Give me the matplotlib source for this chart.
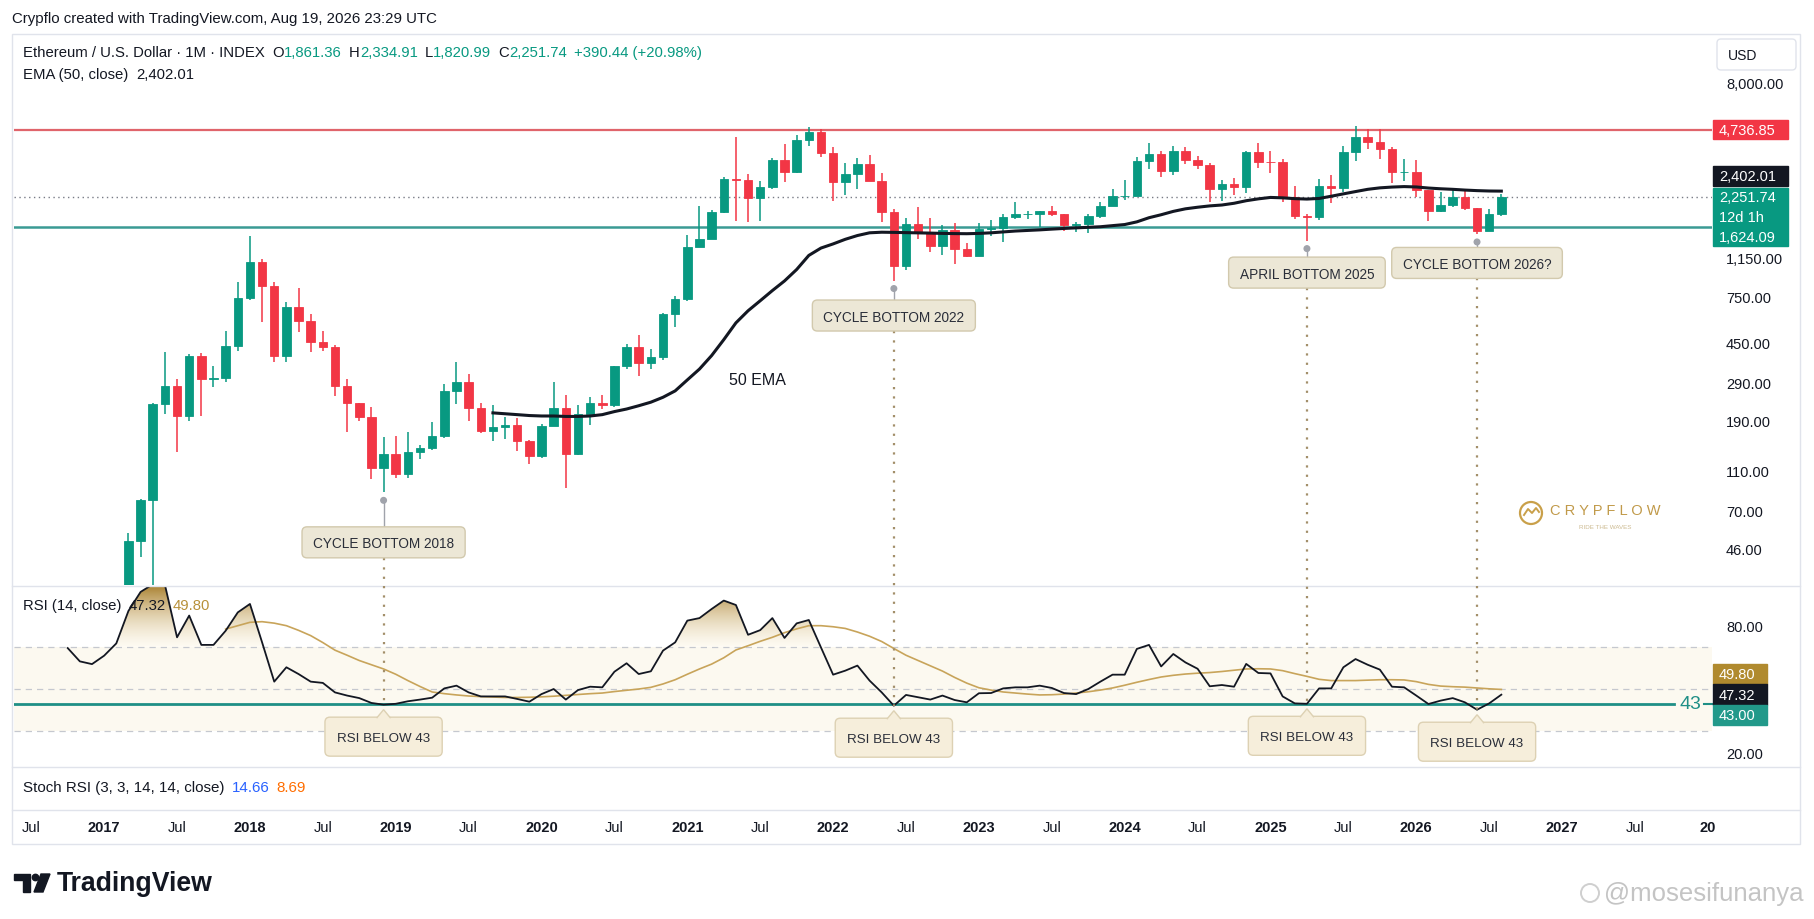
import numpy as np
import matplotlib
matplotlib.use("Agg")
import matplotlib.pyplot as plt
from matplotlib.patches import FancyBboxPatch, Rectangle, Polygon, Circle
from matplotlib.path import Path
from matplotlib.transforms import blended_transform_factory

plt.rcParams["font.family"] = ["Liberation Sans", "DejaVu Sans"]

W, H = 1815, 920

# month index counted from Jan 2016 = 0; first visible candle is Mar 2017
CANDLE_START = 14
opens = [
    15.7, 50, 79, 228, 280, 200, 390, 301, 305, 435,                      # 2017
    736, 1101, 845, 390, 665, 574, 451, 427, 280, 230, 197, 112,          # 2018
    131, 105, 135, 141, 160, 264, 290, 218, 170, 178, 182, 151,           # 2019
    128, 180, 218, 132, 205, 230, 225, 347, 430, 358, 385, 618,           # 2020
    730, 1300, 1415, 1900, 2750, 2710, 2224, 2507, 3388, 2957, 4240, 4630,  # 2021
    3650, 2650, 2905, 3243, 2699, 1915, 1054, 1671, 1530, 1315, 1563, 1267,  # 2022
    1178, 1581, 1605, 1812, 1870, 1875, 1935, 1860, 1645, 1670, 1815, 2046,  # 2023
    2270, 2280, 3340, 3620, 2990, 3760, 3390, 3200, 2460, 2600, 2515, 3690,  # 2024
    3330, 3300, 2240, 1820, 1795, 2530, 2490, 3700, 4360, 4120, 3830, 2960,  # 2025
    2975, 2430, 1936, 2066, 2245, 1985, 1551, 1861.36,                    # 2026
]
highs = [
    55, 80, 232, 404, 300, 395, 400, 349, 513, 877,
    1468, 1135, 876, 703, 822, 620, 513, 440, 300, 232, 220, 158,
    160, 167, 145, 187, 285, 362, 318, 232, 225, 198, 195, 153,
    184, 290, 253, 227, 247, 253, 349, 445, 488, 420, 622, 755,
    1475, 2040, 1945, 2800, 4355, 2890, 2700, 3470, 4030, 4460, 4865, 4780,
    3900, 3280, 3480, 3580, 2950, 1970, 1790, 2010, 1790, 1660, 1680, 1350,
    1680, 1740, 1860, 2122, 1930, 1930, 2030, 1870, 1700, 1860, 2130, 2450,
    2715, 3520, 4090, 3730, 3970, 3890, 3560, 3280, 2720, 2770, 3740, 4110,
    3750, 3440, 2550, 1860, 2740, 2880, 3940, 4955, 4770, 4750, 3920, 3430,
    3370, 2440, 2372, 2430, 2410, 2000, 1972, 2334.91,
]
lows = [
    15.6, 42, 25, 204, 134, 190, 200, 275, 290, 411,
    720, 564, 362, 362, 505, 404, 412, 250, 167, 190, 100, 86,
    101, 101, 125, 137, 157, 228, 190, 166, 152, 155, 136, 118,
    126, 180, 90, 130, 182, 216, 222, 335, 310, 335, 373, 535,
    715, 1290, 1410, 1880, 1733, 1700, 1720, 2450, 2650, 2940, 3960, 3520,
    2161, 2300, 2450, 2780, 1700, 894, 1000, 1420, 1220, 1190, 1070, 1160,
    1170, 1460, 1370, 1760, 1760, 1620, 1820, 1550, 1530, 1520, 1780, 2030,
    2170, 2270, 3060, 2810, 2860, 3250, 3080, 2120, 2150, 2300, 2350, 3100,
    2920, 2120, 1760, 1390, 1750, 2110, 2370, 3350, 3820, 3430, 2630, 2700,
    2245, 1733, 1905, 2010, 1960, 1496, 1540, 1820.99,
]
closes = [
    50, 79, 228, 280, 200, 390, 301, 305, 435, 736,
    1101, 845, 390, 665, 574, 451, 427, 280, 230, 197, 112, 131,
    105, 135, 141, 160, 264, 290, 218, 170, 178, 182, 151, 128,
    180, 218, 132, 205, 230, 225, 347, 430, 358, 385, 618, 730,
    1300, 1415, 1900, 2750, 2710, 2224, 2507, 3388, 2957, 4240, 4630, 3650,
    2650, 2905, 3243, 2699, 1915, 1054, 1671, 1530, 1315, 1563, 1267, 1178,
    1581, 1605, 1812, 1870, 1875, 1935, 1860, 1645, 1670, 1815, 2046, 2270,
    2280, 3340, 3620, 2990, 3760, 3390, 3200, 2460, 2600, 2515, 3690, 3330,
    3300, 2240, 1820, 1795, 2530, 2490, 3700, 4360, 4120, 3830, 2960, 2975,
    2430, 1936, 2066, 2245, 1985, 1551, 1861.30, 2251.74,
]

EMA_START = 44
ema50 = [
    207, 205, 203, 201,
    200, 200, 199, 199, 200, 203, 210, 216, 224, 233, 246, 264,
    298, 336, 390, 465, 560, 640, 715, 800, 890, 1010, 1180, 1280,
    1340, 1410, 1470, 1515, 1525, 1522, 1518, 1514, 1510, 1505, 1502, 1500,
    1505, 1515, 1530, 1545, 1555, 1565, 1578, 1590, 1600, 1610, 1620, 1640,
    1660, 1710, 1790, 1850, 1920, 1975, 2010, 2040, 2060, 2100, 2160, 2205,
    2240, 2230, 2210, 2200, 2215, 2270, 2330, 2390, 2450, 2490, 2512, 2525,
    2515, 2485, 2465, 2450, 2430, 2415, 2405, 2402.01,
]

RSI_START = 9
rsi = [
    69.4, 63.1, 61.8,
    65.8, 71.6, 87, 96, 99.6, 99.4, 74.5, 84.8, 70.9, 70.9, 77.6, 86.3,
    90.3, 72.1, 53.5, 60.3, 57.1, 53.5, 52.9, 48.4, 46.9, 45.7, 43.4, 42.6,
    43.0, 44.2, 45, 45.9, 50.3, 51.6, 48.4, 46.5, 46.5, 46.5, 45.3, 44,
    47.6, 50, 45, 49.5, 51.1, 50.8, 58.2, 62.2, 57.1, 58.4, 68.2, 72.1,
    82.4, 83.6, 87.9, 91.9, 89.8, 75.7, 77.9, 83.6, 74.2, 81.1, 82.7, 69.7,
    56.8, 58.7, 61.1, 54, 48.4, 42.1, 47.2, 46.1, 45, 46.9, 44.8, 43.7,
    48, 48.1, 50.3, 50.8, 50.8, 51.6, 50.5, 48.1, 47.6, 50, 53.5, 56.8,
    56.8, 69, 70.9, 60.7, 66.6, 62.6, 59.6, 51.3, 51.9, 51.1, 61.9, 57.6,
    57.4, 46.5, 43.2, 43.0, 50.3, 50.3, 60.3, 64.2, 61.5, 59.2, 51.1, 50.8,
    46.9, 42.9, 44.5, 45.7, 43.7, 40.2, 43.2, 47.32,
]
RSI_MA_START = 22
rsi_ma = [
    78.4, 80,
    81.6, 81.9, 81.2, 80, 77.8, 75.3, 72, 68.4, 66, 63.5, 61.5, 59.5,
    57, 54, 51.2, 48.6, 47.8, 47.2, 46.7, 46.4, 46.2, 46, 46, 46.1,
    46.3, 46.6, 47, 47.4, 47.8, 48.1, 48.8, 49.4, 50, 50.8, 52.4, 54.4,
    57, 59.5, 61.8, 64.8, 68.5, 70.5, 72.6, 74.5, 76.7, 78.5, 80, 80,
    79.5, 78.7, 77, 75, 72.5, 69.2, 66, 63.5, 61, 58.5, 55.5, 52.8,
    50.6, 49.5, 48.6, 48.1, 47.6, 47.2, 47.3, 47.6, 48.1, 48.7, 49.5, 50.5,
    51.8, 53.2, 54.5, 55.7, 56.5, 57.1, 57.5, 57.8, 58.3, 58.9, 59.5, 59.6,
    59.5, 58.7, 57.3, 56, 54.6, 54, 54, 54, 54.2, 54.4, 54.4, 54.3,
    53.5, 52.2, 51.4, 51.1, 50.9, 50.5, 50.1, 49.8,
]

resistance = 4736.85
support = 1624.09
rsi_level = 43

# scale labels that stay visible (the rest sit under the value tags)
price_ticks = [46, 70, 110, 190, 290, 450, 750, 1150, 8000]
rsi_ticks = [20, 80]

callouts = [("CYCLE BOTTOM 2018", 35), ("CYCLE BOTTOM 2022", 77),
            ("APRIL BOTTOM 2025", 111), ("CYCLE BOTTOM 2026?", 125)]
rsi_callout = "RSI BELOW 43"

time_months = list(range(6, 145, 6))
time_labels = []
for mm in time_months:
    if mm % 12 == 6:
        time_labels.append("Jul")
    else:
        time_labels.append(str(2016 + mm // 12))
time_labels[-1] = "20"

GREEN = "#089981"
RED = "#f23645"
DARK = "#131722"
GOLD = "#b8913a"

fig = plt.figure(figsize=(W / 100, H / 100), dpi=100)
fig.patch.set_facecolor("white")


def px_axes(x0, y0, x1, y1):
    return fig.add_axes([x0 / W, 1 - y1 / H, (x1 - x0) / W, (y1 - y0) / H])


XL = (4.58, 144.34)
ax = px_axes(14, 35, 1712, 586)
rax = px_axes(14, 587, 1712, 767)
tax = px_axes(14, 811, 1712, 845)
for a in (ax, rax, tax):
    for s in a.spines.values():
        s.set_visible(False)
    a.set_xticks([])
tax.set_yticks([])

# price panel
ax.set_yscale("log")
ax.set_xlim(*XL)
ax.set_ylim(30.88, 13640)

x = np.arange(CANDLE_START, CANDLE_START + len(closes))
o, hi, lo, c = map(np.array, (opens, highs, lows, closes))
cols = np.where(c >= o, GREEN, RED)
ax.vlines(x, lo, hi, colors=cols, lw=1.1, zorder=3)
ax.bar(x, np.abs(c - o), bottom=np.minimum(o, c), width=0.7, color=cols,
       edgecolor=cols, lw=0.6, zorder=4)

ax.plot(np.arange(EMA_START, EMA_START + len(ema50)), ema50, color=DARK, lw=2.2, zorder=5)
ax.axhline(resistance, color="#e0646b", lw=1.6, zorder=2)
ax.axhline(support, color="#3a9b94", lw=1.8, zorder=2)
ax.axhline(closes[-1], color="#787b86", lw=1, ls=(0, (1, 2.5)), zorder=2)
ax.text(63.4, 300, "50 EMA", fontsize=11.5, color=DARK, va="center", ha="left")

ax.yaxis.tick_right()
ax.set_yticks(price_ticks, labels=[f"{v:,.2f}" for v in price_ticks])
ax.minorticks_off()
ax.tick_params(axis="y", length=0, pad=10, labelsize=10.5, labelcolor=DARK)

# RSI panel
rax.set_xlim(*XL)
rax.set_ylim(13.54, 98.8)
rax.axhspan(30, 70, color="#fcf9f0", zorder=0, lw=0)
for lv in (70, 50, 30):
    rax.axhline(lv, color="#c5c8cf", lw=0.9, ls=(0, (5, 4)), zorder=1)
rx = np.arange(RSI_START, RSI_START + len(rsi))
ra = np.array(rsi)
fb = rax.fill_between(rx, 70, ra, where=ra > 70, interpolate=True,
                      facecolor="none", edgecolor="none")
clip = Path.make_compound_path(*fb.get_paths())
t = np.linspace(0, 1, 256)[:, None]
top_c = np.array([0.64, 0.47, 0.13])
low_c = np.array([0.99, 0.96, 0.88])
rgb = low_c + (top_c - low_c) * t ** 1.1
alpha = 0.4 + 0.58 * t
grad = np.concatenate([rgb, alpha], axis=1)[:, None, :]
im = rax.imshow(grad, extent=[XL[0], XL[1], 70, 100], origin="lower",
                aspect="auto", zorder=1.5, interpolation="bilinear")
im.set_clip_path(clip, rax.transData)
rax.plot(rx, ra, color=DARK, lw=1.3, zorder=4)
rax.plot(np.arange(RSI_MA_START, RSI_MA_START + len(rsi_ma)), rsi_ma,
         color="#c8a45a", lw=1.2, zorder=3)
rax.axhline(rsi_level, xmax=0.9776, color="#1f8f86", lw=2, zorder=3)
rax.yaxis.tick_right()
rax.set_yticks(rsi_ticks, labels=[f"{v:.2f}" for v in rsi_ticks])
rax.tick_params(axis="y", length=0, pad=10, labelsize=10.5, labelcolor=DARK)
rax.set_xlim(*XL)
rax.set_ylim(13.54, 98.8)

# time axis
tax.set_xlim(*XL)
tt = blended_transform_factory(tax.transData, tax.transAxes)
for mm, lab in zip(time_months, time_labels):
    tax.text(mm, 0.5, lab, transform=tt, ha="center", va="center", fontsize=10.5,
             color=DARK, fontweight="normal" if lab == "Jul" else "bold")

# overlay in pixel units
ov = fig.add_axes([0, 0, 1, 1], zorder=10)
ov.set_xlim(0, W)
ov.set_ylim(H, 0)
ov.axis("off")
rend = fig.canvas.get_renderer()


def to_px(a, xv, yv):
    X, Y = a.transData.transform((xv, yv))
    return X, H - Y


def run_text(x0, y0, parts, size):
    for s, col, gap in parts:
        tx = ov.text(x0, y0, s, color=col, fontsize=size, va="center", ha="left")
        x0 += tx.get_window_extent(renderer=rend).width + gap


# frame
ov.add_patch(Rectangle((12, 35), 1788, 810, fill=False, ec="#e0e3eb", lw=1))
for yy in (586.5, 767.5, 810.5):
    ov.plot([12, 1800], [yy, yy], color="#e0e3eb", lw=1)

# header texts
ov.text(12, 19, "Crypflo created with TradingView.com, Aug 19, 2026 23:29 UTC",
        fontsize=10.8, color=DARK, va="center")
chg = closes[-1] - closes[-2]
pct = chg / closes[-2] * 100
run_text(23, 53, [("Ethereum / U.S. Dollar · 1M · INDEX", DARK, 8),
                  ("O", DARK, 0), (f"{opens[-1]:,.2f}", GREEN, 7),
                  ("H", DARK, 0), (f"{highs[-1]:,.2f}", GREEN, 7),
                  ("L", DARK, 0), (f"{lows[-1]:,.2f}", GREEN, 7),
                  ("C", DARK, 0), (f"{closes[-1]:,.2f}", GREEN, 7),
                  (f"+{chg:,.2f} (+{pct:.2f}%)", GREEN, 0)], 10.7)
run_text(23, 75, [("EMA (50, close)", DARK, 8), (f"{ema50[-1]:,.2f}", DARK, 0)], 10.7)
run_text(23, 606, [("RSI (14, close)", DARK, 7), (f"{rsi[-1]:.2f}", DARK, 7),
                   (f"{rsi_ma[-1]:.2f}", GOLD, 0)], 10.7)
run_text(23, 788, [("Stoch RSI (3, 3, 14, 14, close)", DARK, 7), ("14.66", "#2962ff", 7),
                   ("8.69", "#ff6d00", 0)], 10.9)

# USD box
ov.add_patch(FancyBboxPatch((1717, 40), 79, 31, boxstyle="round,pad=0,rounding_size=4",
                            fc="white", ec="#e0e3eb", lw=1))
ov.text(1728, 56, "USD", fontsize=10, color=DARK, va="center")

# price scale labels
LX, LW = 1713, 75
_, yr = to_px(ax, 0, resistance)
ov.add_patch(Rectangle((LX, yr - 9.5), LW, 19, color=RED, zorder=5))
ov.text(LX + 6, yr, f"{resistance:,.2f}", color="white", fontsize=10.5, va="center", zorder=6)
_, yc = to_px(ax, 0, closes[-1])
ye = yc - 21
ov.add_patch(Rectangle((LX, ye - 9.7), LW, 19.4, color=DARK, zorder=5))
ov.text(LX + 6, ye, f"{ema50[-1]:,.2f}", color="white", fontsize=10.5, va="center", zorder=6)
ov.add_patch(Rectangle((LX, yc - 9), LW, 58.5, color=GREEN, zorder=5))
ov.text(LX + 6, yc, f"{closes[-1]:,.2f}", color="white", fontsize=10.5, va="center", zorder=6)
ov.text(LX + 6, yc + 19.8, "12d 1h", color="white", fontsize=10.5, va="center", zorder=6)
ov.text(LX + 6, yc + 39.8, f"{support:,.2f}", color="white", fontsize=10.5, va="center", zorder=6)

# RSI scale labels
_, yk = to_px(rax, 0, rsi[-1])
for dy, val, col in ((-20.7, rsi_ma[-1], "#b08a2e"), (0, rsi[-1], DARK), (20.5, rsi_level, "#22998a")):
    ov.add_patch(Rectangle((LX, yk + dy - 10.3), 54, 20.6, color=col, zorder=5))
    ov.text(LX + 6, yk + dy, f"{val:.2f}", color="white", fontsize=10.5, va="center", zorder=6)
_, y43 = to_px(rax, 0, rsi_level)
ov.text(1690, y43, f"{rsi_level}", color="#1f8f86", fontsize=14, ha="center", va="center")
ov.plot([1704, 1712], [y43, y43], color="#1f8f86", lw=1.5)


def box_text(cx, cy, s, size, fc, ec, padx, h):
    tx = ov.text(cx, cy + 1, s, ha="center", va="center", fontsize=size, color="#2a2e39", zorder=8)
    w = tx.get_window_extent(renderer=rend).width + 2 * padx
    ov.add_patch(FancyBboxPatch((cx - w / 2, cy - h / 2), w, h,
                                boxstyle="round,pad=0,rounding_size=5",
                                fc=fc, ec=ec, lw=1, zorder=7))


price_drop = [50, 35, 32, 29]
for (lab, mm), drop in zip(callouts, price_drop):
    cx, ylow = to_px(ax, mm, lows[mm - CANDLE_START])
    dot_y = ylow + 8
    cy = ylow + drop
    ov.plot([cx, cx], [dot_y, cy - 15], color="#a0a3ab", lw=1, zorder=4)
    ov.add_patch(Circle((cx, dot_y), 2.8, color="#a0a3ab", zorder=5))
    box_text(cx, cy, lab, 9.8, "#ece7d6", "#d2c9ad", 11, 31)
    _, ry = to_px(rax, mm, rsi[mm - RSI_START])
    ov.plot([cx, cx], [cy + 15.5, ry], color="#a38f6a", lw=1.6, ls=(0, (1, 3.2)), zorder=3)
    rcy = ry + 32
    box_text(cx, rcy, rsi_callout, 9.6, "#f6eedb", "#ddd1b3", 12, 39)
    ov.add_patch(Polygon([(cx - 7, rcy - 18.5), (cx, rcy - 27), (cx + 7, rcy - 18.5)], closed=False,
                         fc="#f6eedb", ec="#ddd1b3", lw=1, zorder=7.5))

# Crypflow watermark
ov.add_patch(Circle((1531, 514), 11, fill=False, ec="#c9a04a", lw=1.6))
ov.plot([1524, 1528, 1532, 1536, 1539], [516, 510, 514, 509, 513], color="#c9a04a", lw=1.4)
ov.text(1605, 511, "C R Y P F L O W", fontsize=10.5, color="#c19a4a", ha="center", va="center")
ov.text(1605, 528, "RIDE THE WAVES", fontsize=4.5, color="#cdbb92", ha="center", va="center")

# TradingView logo
ov.add_patch(Polygon([(14, 875), (30, 875), (30, 893), (23, 893), (23, 881), (14, 881)], color=DARK))
ov.add_patch(Circle((35.5, 878.5), 3.2, color=DARK))
ov.add_patch(Polygon([(41, 875), (50, 875), (43, 893), (34, 893)], color=DARK))
ov.text(57, 884, "TradingView", fontsize=19.2, fontweight="bold", color=DARK, va="center")

# bottom-right watermark
ov.add_patch(Circle((1590, 894), 9, fill=False, ec="#cfcfcf", lw=1.4))
ov.text(1604, 894, "@mosesifunanya", fontsize=18.5, color="#c4c4c4", va="center")

fig.savefig("out.png", dpi=100, facecolor="white")
